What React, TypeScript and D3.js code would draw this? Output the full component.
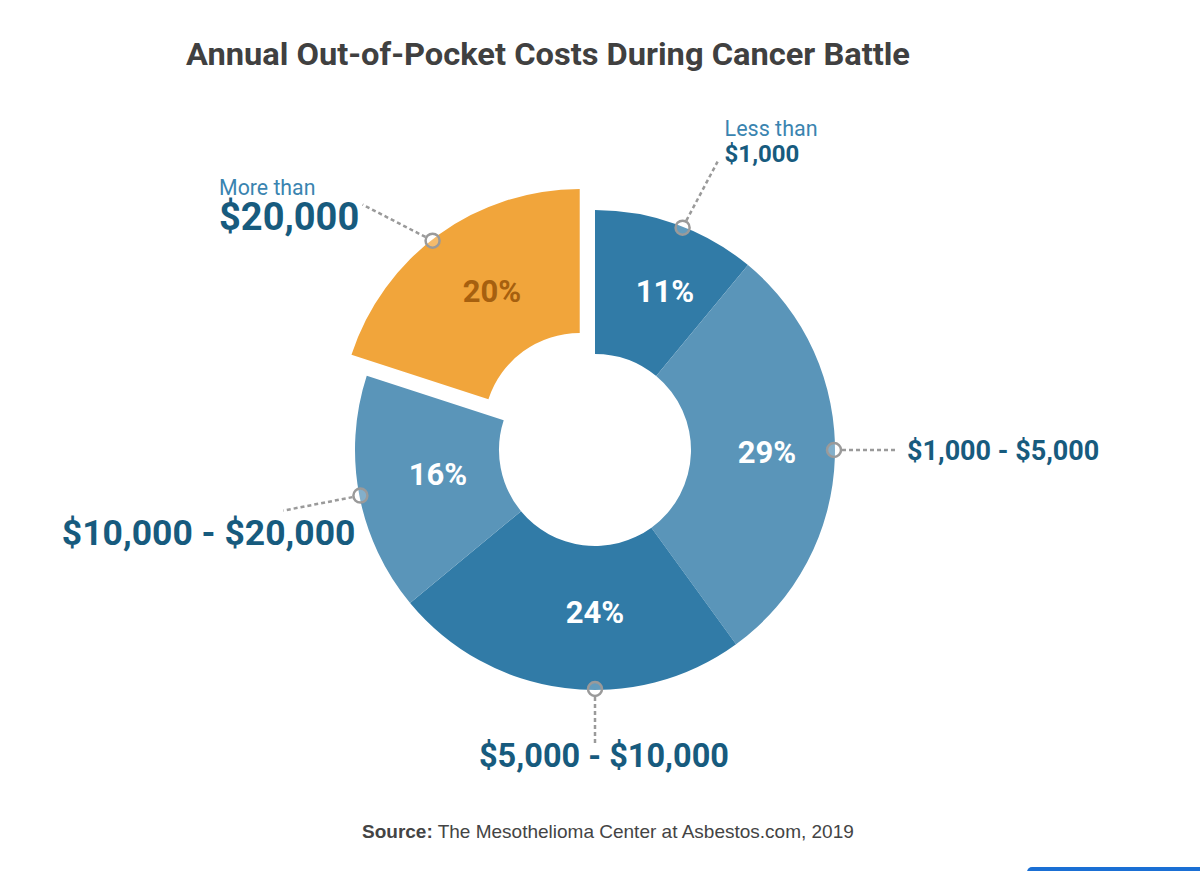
import React from 'react';
import * as d3 from 'd3';

// share of respondents per annual cost bracket, clockwise from 12 o'clock
const brackets = ['Less than $1,000', '$1,000 - $5,000', '$5,000 - $10,000', '$10,000 - $20,000', 'More than $20,000'];
const shares = [11, 29, 24, 16, 20];
const sliceColors = ['#317ba7', '#5a95b9', '#317ba7', '#5a95b9', '#f1a53b'];
const pctColors = ['#fff', '#fff', '#fff', '#fff', '#a6600f'];

const W = 1200;
const H = 871;
const cx = 595;
const cy = 450;
const outerR = 240;
const innerR = 96;
const explodeBy = 26;

// callout layout per slice
const anchorDeg = [21.5, 90, 180, 259, 322];
const leaderEnd: [number, number][] = [[35, -66], [62, 0], [0, 55], [-77, 15], [-70, -36]];
const pctNudge: [number, number][] = [[13, -1], [4, -3], [21, -5], [8, -7], [11, -2]];

type Line = { text: string; size: number; dy: number; bold: boolean; light?: boolean };
type Callout = { dx: number; anchor: string; lines: Line[] };

const callouts: Callout[] = [
  { dx: 7, anchor: 'start', lines: [
    { text: 'Less than', size: 21.5, dy: -25.5, bold: false, light: true },
    { text: '$1,000', size: 24, dy: 0, bold: true },
  ] },
  { dx: 11, anchor: 'start', lines: [{ text: '$1,000 - $5,000', size: 27, dy: 10, bold: true }] },
  { dx: 9, anchor: 'middle', lines: [{ text: '$5,000 - $10,000', size: 32.5, dy: 23, bold: true }] },
  { dx: 72, anchor: 'end', lines: [{ text: '$10,000 - $20,000', size: 35.5, dy: 34, bold: true }] },
  { dx: -143.5, anchor: 'start', lines: [
    { text: 'More than', size: 21.3, dy: -10, bold: false, light: true },
    { text: '$20,000', size: 38, dy: 25, bold: true },
  ] },
];

export default function App() {
  const pie = d3.pie<number>().sort(null).value(d => d);
  const arcs = pie(shares);
  const arc = d3.arc<d3.PieArcDatum<number>>().innerRadius(innerR).outerRadius(outerR);

  // the last bracket is pulled out along its mid angle
  const offset = (i: number) => {
    if (i !== shares.length - 1) return [0, 0];
    const a = (arcs[i].startAngle + arcs[i].endAngle) / 2;
    return [Math.sin(a) * explodeBy, -Math.cos(a) * explodeBy];
  };

  return (
    <svg width={W} height={H} style={{ position: 'absolute', left: 0, top: 0, display: 'block' }}
      fontFamily="Roboto, 'Noto Sans', sans-serif">
      <rect width={W} height={H} fill="#fff" />
      <text x={186} y={65} fontSize={31} fontWeight={700} fill="#404040"
        textLength={724} lengthAdjust="spacingAndGlyphs">
        Annual Out-of-Pocket Costs During Cancer Battle
      </text>

      {arcs.map((d, i) => {
        const [ox, oy] = offset(i);
        const [px, py] = arc.centroid(d);
        return (
          <g key={brackets[i]} transform={`translate(${cx + ox},${cy + oy})`}>
            <path d={arc(d) ?? ''} fill={sliceColors[i]} />
            <text x={px + pctNudge[i][0]} y={py + pctNudge[i][1]} dy="0.355em" textAnchor="middle"
              fontSize={31} fontWeight={700} fill={pctColors[i]}>
              {`${shares[i]}%`}
            </text>
          </g>
        );
      })}

      {arcs.map((d, i) => {
        const [ox, oy] = offset(i);
        const a = (anchorDeg[i] * Math.PI) / 180;
        const ax = cx + ox + Math.sin(a) * (outerR - 1);
        const ay = cy + oy - Math.cos(a) * (outerR - 1);
        const ex = ax + leaderEnd[i][0];
        const ey = ay + leaderEnd[i][1];
        const len = Math.hypot(ex - ax, ey - ay);
        const ux = (ex - ax) / len;
        const uy = (ey - ay) / len;
        const c = callouts[i];
        return (
          <g key={`c${i}`}>
            <line x1={ax + ux * 8} y1={ay + uy * 8} x2={ex} y2={ey}
              stroke="#9a9a9a" strokeWidth={2.5} strokeDasharray="4 3" />
            <circle cx={ax} cy={ay} r={7} fill="rgba(255,255,255,0.25)" stroke="#9a9a9a" strokeWidth={2.5} />
            {c.lines.map((l, j) => (
              <text key={j} x={ex + c.dx} y={ey + l.dy} textAnchor={c.anchor} fontSize={l.size}
                fontWeight={l.bold ? 700 : 400} fill={l.light ? '#3a84b0' : '#175b7e'}>
                {l.text}
              </text>
            ))}
          </g>
        );
      })}

      <text x={362} y={838} fontSize={19} fill="#444"
        fontFamily="'Liberation Sans', Arial, sans-serif">
        <tspan fontWeight={700}>Source:</tspan> The Mesothelioma Center at Asbestos.com, 2019
      </text>

      <rect x={1027} y={867} width={190} height={12} rx={5} fill="#1a6fd4" />
    </svg>
  );
}
